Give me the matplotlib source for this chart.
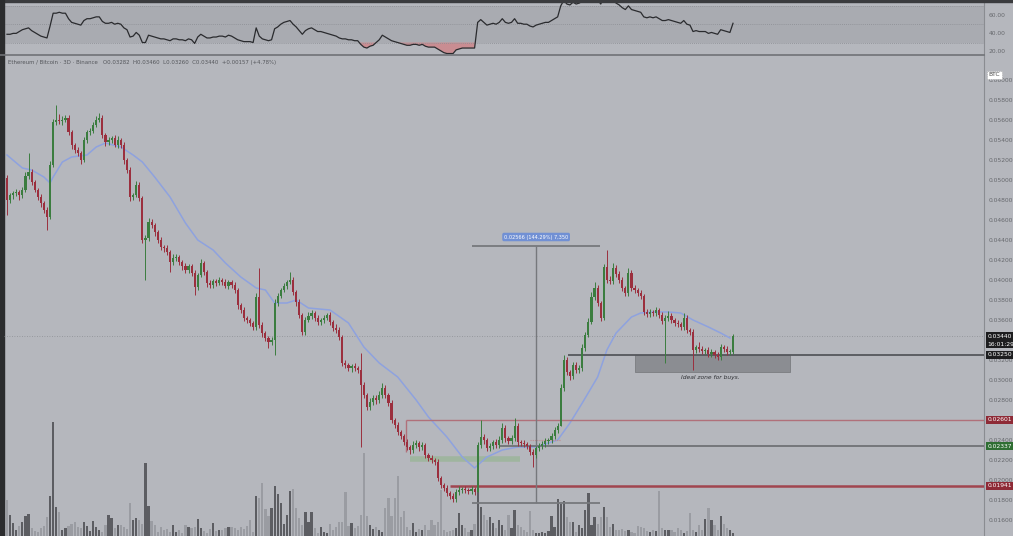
import numpy as np
import matplotlib
matplotlib.use("Agg")
import matplotlib.pyplot as plt
from matplotlib.patches import Rectangle
import matplotlib.transforms as mtransforms

######################################################################
# ETH/BTC, 3D candles, Binance (prices in BTC)
first_open = 0.0502
closes = [
    0.0480, 0.0485, 0.0487, 0.0488, 0.0485, 0.0490, 0.0504, 0.0508, 0.0498, 0.0490,
    0.0483, 0.0477, 0.0470, 0.0463, 0.0515, 0.0558, 0.0560, 0.0559, 0.0560, 0.0562,
    0.0548, 0.0535, 0.0530, 0.0527, 0.0520, 0.0540, 0.0548, 0.0549, 0.0555, 0.0560,
    0.0562, 0.0545, 0.0538, 0.0540, 0.0542, 0.0535, 0.0540, 0.0535, 0.0520, 0.0510,
    0.0483, 0.0485, 0.0495, 0.0482, 0.0440, 0.0442, 0.0458, 0.0455, 0.0448, 0.0440,
    0.0433, 0.0432, 0.0428, 0.0418, 0.0422, 0.0423, 0.0418, 0.0414, 0.0410, 0.0414,
    0.0407, 0.0393, 0.0405, 0.0417, 0.0408, 0.0397, 0.0395, 0.0399, 0.0397, 0.0400,
    0.0398, 0.0394, 0.0398, 0.0395, 0.0390, 0.0375, 0.0370, 0.0362, 0.0360, 0.0357,
    0.0353, 0.0383, 0.0355, 0.0347, 0.0342, 0.0338, 0.0340, 0.0377, 0.0384, 0.0390,
    0.0394, 0.0398, 0.0400, 0.0388, 0.0378, 0.0365, 0.0348, 0.0360, 0.0364, 0.0367,
    0.0362, 0.0358, 0.0360, 0.0362, 0.0365, 0.0358, 0.0352, 0.0350, 0.0343, 0.0317,
    0.0315, 0.0312, 0.0314, 0.0312, 0.0310, 0.0295, 0.0285, 0.0273, 0.0278, 0.0282,
    0.0280, 0.0285, 0.0292, 0.0285, 0.0277, 0.0260, 0.0255, 0.0248, 0.0244, 0.0238,
    0.0233, 0.0230, 0.0235, 0.0237, 0.0233, 0.0235, 0.0225, 0.0222, 0.0220, 0.0218,
    0.0202, 0.0195, 0.0192, 0.0187, 0.0184, 0.0181, 0.0188, 0.0190, 0.0191, 0.0190,
    0.0189, 0.0191, 0.0188, 0.0235, 0.0243, 0.0240, 0.0232, 0.0234, 0.0238, 0.0235,
    0.0240, 0.0252, 0.0242, 0.0239, 0.0242, 0.0254, 0.0238, 0.0237, 0.0236, 0.0234,
    0.0228, 0.0225, 0.0232, 0.0234, 0.0236, 0.0239, 0.0240, 0.0244, 0.0250, 0.0254,
    0.0292, 0.0320, 0.0308, 0.0304, 0.0315, 0.0310, 0.0312, 0.0332, 0.0345, 0.0358,
    0.0383, 0.0392, 0.0377, 0.0362, 0.0413, 0.0400, 0.0399, 0.0412, 0.0406, 0.0400,
    0.0392, 0.0387, 0.0407, 0.0392, 0.0390, 0.0387, 0.0384, 0.0368, 0.0366, 0.0368,
    0.0367, 0.0370, 0.0365, 0.0359, 0.0362, 0.0364, 0.0360, 0.0357, 0.0356, 0.0353,
    0.0362, 0.0350, 0.0348, 0.0330, 0.0333, 0.0331, 0.0329, 0.0330, 0.0326, 0.0328,
    0.0325, 0.0323, 0.0333, 0.0331, 0.0328, 0.03282, 0.0344,
]
# wick lengths beyond the body, in units of 0.0001 BTC
wick_up = [
    3, 2, 2, 3, 2, 3, 4, 19, 3, 2,
    2, 3, 2, 3, 4, 3, 15, 6, 4, 3,
    3, 2, 2, 3, 2, 3, 2, 3, 3, 4,
    5, 3, 2, 3, 2, 3, 4, 2, 3, 2,
    3, 2, 4, 3, 2, 3, 4, 3, 2, 2,
    3, 2, 3, 2, 4, 3, 2, 2, 3, 2,
    2, 3, 2, 4, 2, 2, 3, 2, 2, 3,
    2, 3, 2, 2, 3, 2, 2, 3, 2, 2,
    2, 4, 29, 3, 2, 2, 3, 4, 3, 2,
    3, 2, 8, 3, 2, 3, 2, 3, 4, 3,
    2, 3, 2, 3, 2, 3, 2, 4, 3, 2,
    3, 2, 2, 3, 2, 17, 3, 2, 4, 3,
    3, 4, 5, 3, 2, 3, 2, 3, 2, 2,
    3, 2, 4, 3, 2, 3, 2, 2, 3, 2,
    3, 2, 2, 3, 2, 3, 3, 4, 2, 3,
    2, 3, 2, 3, 17, 3, 2, 3, 2, 3,
    4, 5, 3, 2, 3, 8, 3, 2, 3, 2,
    2, 3, 2, 3, 3, 3, 2, 3, 3, 3,
    4, 5, 3, 2, 3, 3, 3, 4, 3, 4,
    5, 6, 3, 2, 3, 17, 4, 5, 3, 3,
    3, 2, 5, 3, 3, 2, 3, 2, 3, 3,
    2, 3, 2, 3, 3, 5, 3, 2, 3, 2,
    5, 3, 2, 3, 2, 5, 3, 2, 3, 3,
    2, 3, 3, 2, 3, 3, 2,
]
wick_dn = [
    15, 3, 4, 3, 5, 3, 2, 3, 3, 2,
    3, 4, 3, 13, 2, 2, 3, 3, 4, 2,
    3, 4, 3, 3, 4, 2, 3, 3, 2, 2,
    2, 3, 4, 3, 3, 2, 3, 3, 4, 3,
    4, 3, 2, 3, 3, 40, 3, 3, 4, 3,
    3, 4, 3, 10, 3, 3, 3, 4, 3, 3,
    3, 8, 3, 2, 3, 4, 3, 3, 3, 2,
    3, 2, 3, 3, 3, 4, 3, 3, 3, 3,
    3, 3, 3, 4, 3, 6, 3, 15, 3, 2,
    2, 3, 2, 3, 4, 3, 3, 3, 2, 3,
    3, 3, 3, 3, 2, 3, 3, 3, 3, 3,
    3, 3, 4, 3, 3, 62, 3, 3, 3, 3,
    4, 3, 3, 3, 3, 3, 3, 3, 3, 3,
    3, 4, 3, 3, 4, 3, 3, 3, 3, 3,
    3, 3, 3, 3, 3, 3, 3, 3, 3, 3,
    3, 3, 3, 0, 3, 4, 3, 3, 3, 3,
    3, 3, 4, 3, 3, 3, 4, 3, 3, 3,
    3, 12, 3, 3, 3, 3, 3, 3, 3, 3,
    0, 3, 3, 4, 3, 3, 3, 3, 3, 2,
    2, 3, 3, 3, 2, 3, 3, 3, 3, 3,
    3, 3, 3, 3, 3, 3, 3, 3, 3, 3,
    3, 3, 3, 3, 42, 3, 3, 3, 3, 3,
    3, 3, 3, 20, 3, 3, 3, 3, 3, 3,
    3, 3, 3, 3, 3, 3, 2,
]
volume = [
    36, 21, 13, 6, 10, 14, 20, 22, 8, 5,
    4, 8, 10, 19, 40, 114, 29, 24, 6, 8,
    10, 12, 14, 9, 8, 14, 10, 5, 15, 9,
    6, 4, 11, 21, 18, 8, 11, 11, 9, 7,
    33, 16, 18, 16, 12, 73, 30, 15, 11, 4,
    9, 6, 7, 4, 11, 4, 6, 3, 11, 9,
    8, 9, 17, 8, 5, 3, 7, 13, 5, 6,
    6, 8, 9, 9, 8, 6, 9, 7, 10, 16,
    4, 40, 38, 53, 27, 20, 28, 50, 42, 33,
    12, 21, 45, 47, 28, 18, 11, 24, 14, 24,
    8, 3, 9, 4, 3, 12, 6, 9, 14, 14,
    44, 10, 13, 8, 10, 21, 83, 20, 11, 7,
    9, 6, 4, 28, 38, 20, 38, 60, 19, 25,
    9, 6, 13, 4, 7, 6, 11, 6, 16, 11,
    14, 46, 6, 4, 5, 6, 8, 23, 11, 8,
    4, 6, 12, 46, 29, 21, 16, 19, 13, 8,
    16, 11, 6, 21, 8, 26, 11, 9, 6, 4,
    25, 6, 3, 3, 4, 3, 5, 20, 9, 37,
    32, 35, 19, 14, 14, 4, 11, 8, 26, 43,
    11, 19, 12, 19, 29, 19, 9, 12, 6, 6,
    7, 5, 6, 4, 3, 10, 9, 8, 5, 4,
    6, 5, 45, 8, 6, 6, 6, 4, 8, 6,
    3, 5, 23, 6, 4, 11, 6, 17, 28, 16,
    11, 6, 20, 12, 8, 6, 3,
]
rsi = [
    39, 39, 40, 40, 42, 44, 45, 46, 43, 41,
    39, 37, 36, 35, 48, 62, 62, 63, 62, 62,
    56, 52, 51, 50, 49, 54, 56, 56, 57, 58,
    58, 53, 51, 51, 52, 50, 51, 50, 46, 44,
    36, 37, 41, 38, 30, 30, 38, 37, 36, 35,
    34, 34, 33, 32, 34, 34, 33, 33, 32, 34,
    33, 29, 36, 39, 37, 35, 35, 36, 36, 37,
    37, 36, 38, 37, 35, 33, 32, 31, 31, 31,
    30, 46, 37, 34, 33, 32, 33, 45, 47, 50,
    52, 53, 54, 50, 47, 43, 39, 43, 45, 46,
    44, 42, 42, 41, 40, 39, 38, 37, 35, 34,
    34, 33, 33, 32, 32, 28, 25, 24, 26, 27,
    30, 33, 38, 36, 34, 32, 31, 30, 29, 28,
    27, 27, 28, 28, 27, 28, 26, 25, 25, 25,
    23, 21, 19, 18, 18, 18, 22, 23, 24, 24,
    24, 24, 24, 52, 55, 52, 49, 50, 51, 50,
    52, 56, 52, 51, 52, 56, 51, 51, 50, 50,
    48, 47, 49, 50, 51, 52, 52, 54, 56, 58,
    70, 76, 72, 71, 74, 72, 73, 75, 77, 79,
    83, 83, 77, 72, 79, 75, 74, 76, 73, 71,
    68, 66, 70, 66, 65, 64, 63, 58, 57, 58,
    57, 58, 56, 54, 54, 55, 54, 53, 52, 51,
    54, 50, 49, 42, 43, 42, 42, 42, 40, 41,
    40, 39, 44, 43, 42, 41, 51,
]
# blue moving average, read at these candles
ma_idx = [0, 5, 8, 12, 14, 15, 18, 21, 26, 29, 32, 37, 41, 44, 48, 53, 58, 62, 67, 71,
          76, 81, 84, 87, 91, 94, 98, 105, 111, 116, 121, 127, 133, 137, 143, 148, 152, 156, 161, 166,
          172, 179, 183, 187, 192, 195, 198, 203, 206, 210, 215, 219, 223, 228, 232, 235]
ma_val = [0.0525, 0.0512, 0.0510, 0.0503, 0.0497, 0.0503, 0.0518, 0.0523, 0.0525, 0.0533,
          0.0537, 0.0533, 0.0525, 0.0518, 0.0503, 0.0483, 0.0457, 0.0440, 0.0430, 0.0417,
          0.0403, 0.0392, 0.0390, 0.0377, 0.0377, 0.0380, 0.0372, 0.0370, 0.0357, 0.0333,
          0.0317, 0.0303, 0.0280, 0.0263, 0.0243, 0.0223, 0.0212, 0.0223, 0.0230, 0.0233,
          0.0233, 0.0240, 0.0257, 0.0277, 0.0303, 0.0330, 0.0347, 0.0363, 0.0367, 0.0368,
          0.0368, 0.0367, 0.0360, 0.0353, 0.0347, 0.0342]

# levels drawn on the chart
last_price = 0.0344
buy_level = 0.0325
zone_low = 0.0308
red_top = 0.02601
red_box_low = 0.0228
green_level = 0.02337
red_low = 0.01941
green_bar = 0.0221
measure_top = 0.0434
measure_bot = 0.0177
price_ticks = [0.060, 0.058, 0.056, 0.054, 0.052, 0.050, 0.048, 0.046, 0.044, 0.042,
               0.040, 0.038, 0.036, 0.032, 0.030, 0.028, 0.024, 0.022, 0.020, 0.018, 0.016]
rsi_ticks = [60, 40, 20]
header = "Ethereum / Bitcoin · 3D · Binance   O0.03282  H0.03460  L0.03260  C0.03440  +0.00157 (+4.78%)"

assert len(closes) == len(wick_up) == len(wick_dn) == len(volume) == len(rsi)

######################################################################
BG = "#b5b7bd"
BAND = "#a9abb1"
GREEN = "#3b7d3f"
RED = "#9b2f3e"
TXT = "#66686d"

W, H = 1013, 536
fig = plt.figure(figsize=(W / 100, H / 100), dpi=100)
fig.patch.set_facecolor(BG)

step = 3.0763
xlim = ((4 - 7) / step, (984 - 7) / step)

ax_vol = fig.add_axes([4 / W, 0, 980 / W, 480 / H])
ax = fig.add_axes([4 / W, 0, 980 / W, 480 / H])
ax_rsi = fig.add_axes([4 / W, 1 - 55 / H, 980 / W, 55 / H])
ax.set_zorder(2)
ax.set_facecolor("none")
ax_vol.set_facecolor(BG)
ax_rsi.set_facecolor(BG)
for a in (ax, ax_vol, ax_rsi):
    a.set_xlim(*xlim)
    a.set_xticks([])
    a.set_yticks([])
    for s in a.spines.values():
        s.set_visible(False)
ax.set_ylim(0.0144, 0.0624)
ax_vol.set_ylim(0, 480)
ax_rsi.set_ylim(16.4, 76.4)

n = len(closes)
idx = np.arange(n)
c = np.array(closes)
o = np.r_[first_open, c[:-1]]
hi = np.maximum(o, c) + np.array(wick_up) * 1e-4
lo = np.minimum(o, c) - np.array(wick_dn) * 1e-4
up = c >= o
col = np.where(up, GREEN, RED)

# volume
ax_vol.bar(idx, volume, width=0.72, color=np.where(up, "#5c5d62", "#9a9ca2"), lw=0)

# candles
ax.vlines(idx, lo, hi, colors=col, lw=0.7, zorder=4)
body = np.maximum(np.abs(c - o), 0.00007)
ax.bar(idx, body, bottom=np.minimum(o, c), width=0.7, color=col, lw=0, zorder=5)

# moving average
ax.plot(ma_idx, ma_val, color="#8ea2df", lw=1.1, zorder=3)

# current price dotted
ax.axhline(last_price, color="#8d8f94", lw=0.6, ls=(0, (1, 2)), zorder=1)

# buy level + ideal zone
ax.hlines(buy_level, 182.4, xlim[1], color="#55575c", lw=1.3, zorder=3)
ax.add_patch(Rectangle((204, zone_low), 50.5, buy_level - zone_low, facecolor="#8b8d92",
                       edgecolor="#7a7c80", lw=0.6, zorder=2))
ax.text(228.5, 0.0302, "Ideal zone for buys.", fontsize=4.3, style="italic",
        color="#303236", ha="center", va="center", zorder=6)

# red box outline
ax.hlines(red_top, 129.7, xlim[1], color="#b0707a", lw=1.0, zorder=3)
ax.vlines(129.7, red_box_low, red_top, color="#b0707a", lw=1.0, zorder=3)
# green bar
ax.hlines(green_bar, 131, 166.8, color="#9db59c", lw=4, alpha=0.9, zorder=2)
# grey level
ax.hlines(green_level, 160.3, xlim[1], color="#6a6c70", lw=1.2, zorder=3)
ax.hlines(0.0240, 170, 180, color="#c08a8e", lw=0.8, ls=(0, (1, 1)), zorder=3)
# red low level
ax.hlines(red_low, 144, xlim[1], color="#a1454f", lw=1.8, zorder=3)

# measure tool
ax.vlines(172, measure_bot, measure_top, color="#76787c", lw=1.0, zorder=3)
ax.hlines([measure_top, measure_bot], 151.2, 192.8, color="#76787c", lw=1.3, zorder=3)
ax.text(172, 0.0443, "0.02566 (144.29%) 7,350", fontsize=3.6, color="white",
        ha="center", va="center", zorder=7,
        bbox=dict(boxstyle="round,pad=0.35", fc="#7190d4", ec="none"))

# right price scale
tr = mtransforms.blended_transform_factory(ax.transAxes, ax.transData)
ax.plot([1, 1], [0, 1], transform=ax.transAxes, color="#8a8c91", lw=0.8, clip_on=False)
for p in price_ticks:
    ax.text(1.0045, p, "%.5f" % p, transform=tr, fontsize=4.3, color=TXT,
            va="center", ha="left", clip_on=False, zorder=6)


def tag(p, s, fc):
    ax.text(1.0035, p, s, transform=tr, fontsize=4.3, color="white", va="center",
            ha="left", clip_on=False, zorder=8,
            bbox=dict(boxstyle="square,pad=0.25", fc=fc, ec="none"))


tag(last_price, "0.03440", "#1d1d1f")
tag(last_price - 0.0008, "16:01:29", "#1d1d1f")
tag(buy_level, "0.03250", "#1d1d1f")
tag(red_top, "0.02601", "#8e2a36")
tag(green_level, "0.02337", "#2f6e33")
tag(red_low, "0.01941", "#8e2a36")
ax.text(1.0045, 0.0605, "BTC", transform=tr, fontsize=4.3, color="#444", va="center",
        ha="left", clip_on=False, zorder=8,
        bbox=dict(boxstyle="square,pad=0.3", fc="white", ec="#999", ls=":", lw=0.5))

fig.text(8 / W, 1 - 62 / H, header, fontsize=3.9, color="#55575c", va="center", ha="left")

# RSI panel
ax_rsi.axhspan(30, 70, color=BAND, lw=0)
for lv in (70, 50, 30):
    ax_rsi.axhline(lv, color="#8b8d93", lw=0.6, ls=(0, (1, 1.5)))
r = np.array(rsi, dtype=float)
ax_rsi.fill_between(idx, r, 30, where=r < 30, interpolate=True, color="#c98d92", lw=0)
ax_rsi.plot(idx, r, color="#2a2b2e", lw=0.9)
trr = mtransforms.blended_transform_factory(ax_rsi.transAxes, ax_rsi.transData)
ax_rsi.plot([1, 1], [0, 1], transform=ax_rsi.transAxes, color="#8a8c91", lw=0.8, clip_on=False)
for v in rsi_ticks:
    ax_rsi.text(1.0045, v, "%.2f" % v, transform=trr, fontsize=4.3, color=TXT,
                va="center", ha="left", clip_on=False)

# frame bits: top bar, left border, panel separator
fig.add_artist(Rectangle((0, 1 - 2 / H), 1, 2 / H, transform=fig.transFigure, color="#3a3b3e"))
fig.add_artist(Rectangle((0, 0), 4 / W, 1, transform=fig.transFigure, color="#2b2c2e"))
fig.add_artist(plt.Line2D([0, 984 / W], [1 - 55 / H, 1 - 55 / H], transform=fig.transFigure,
                          color="#707277", lw=1.2))

fig.savefig("out.png", dpi=100, facecolor=BG)
